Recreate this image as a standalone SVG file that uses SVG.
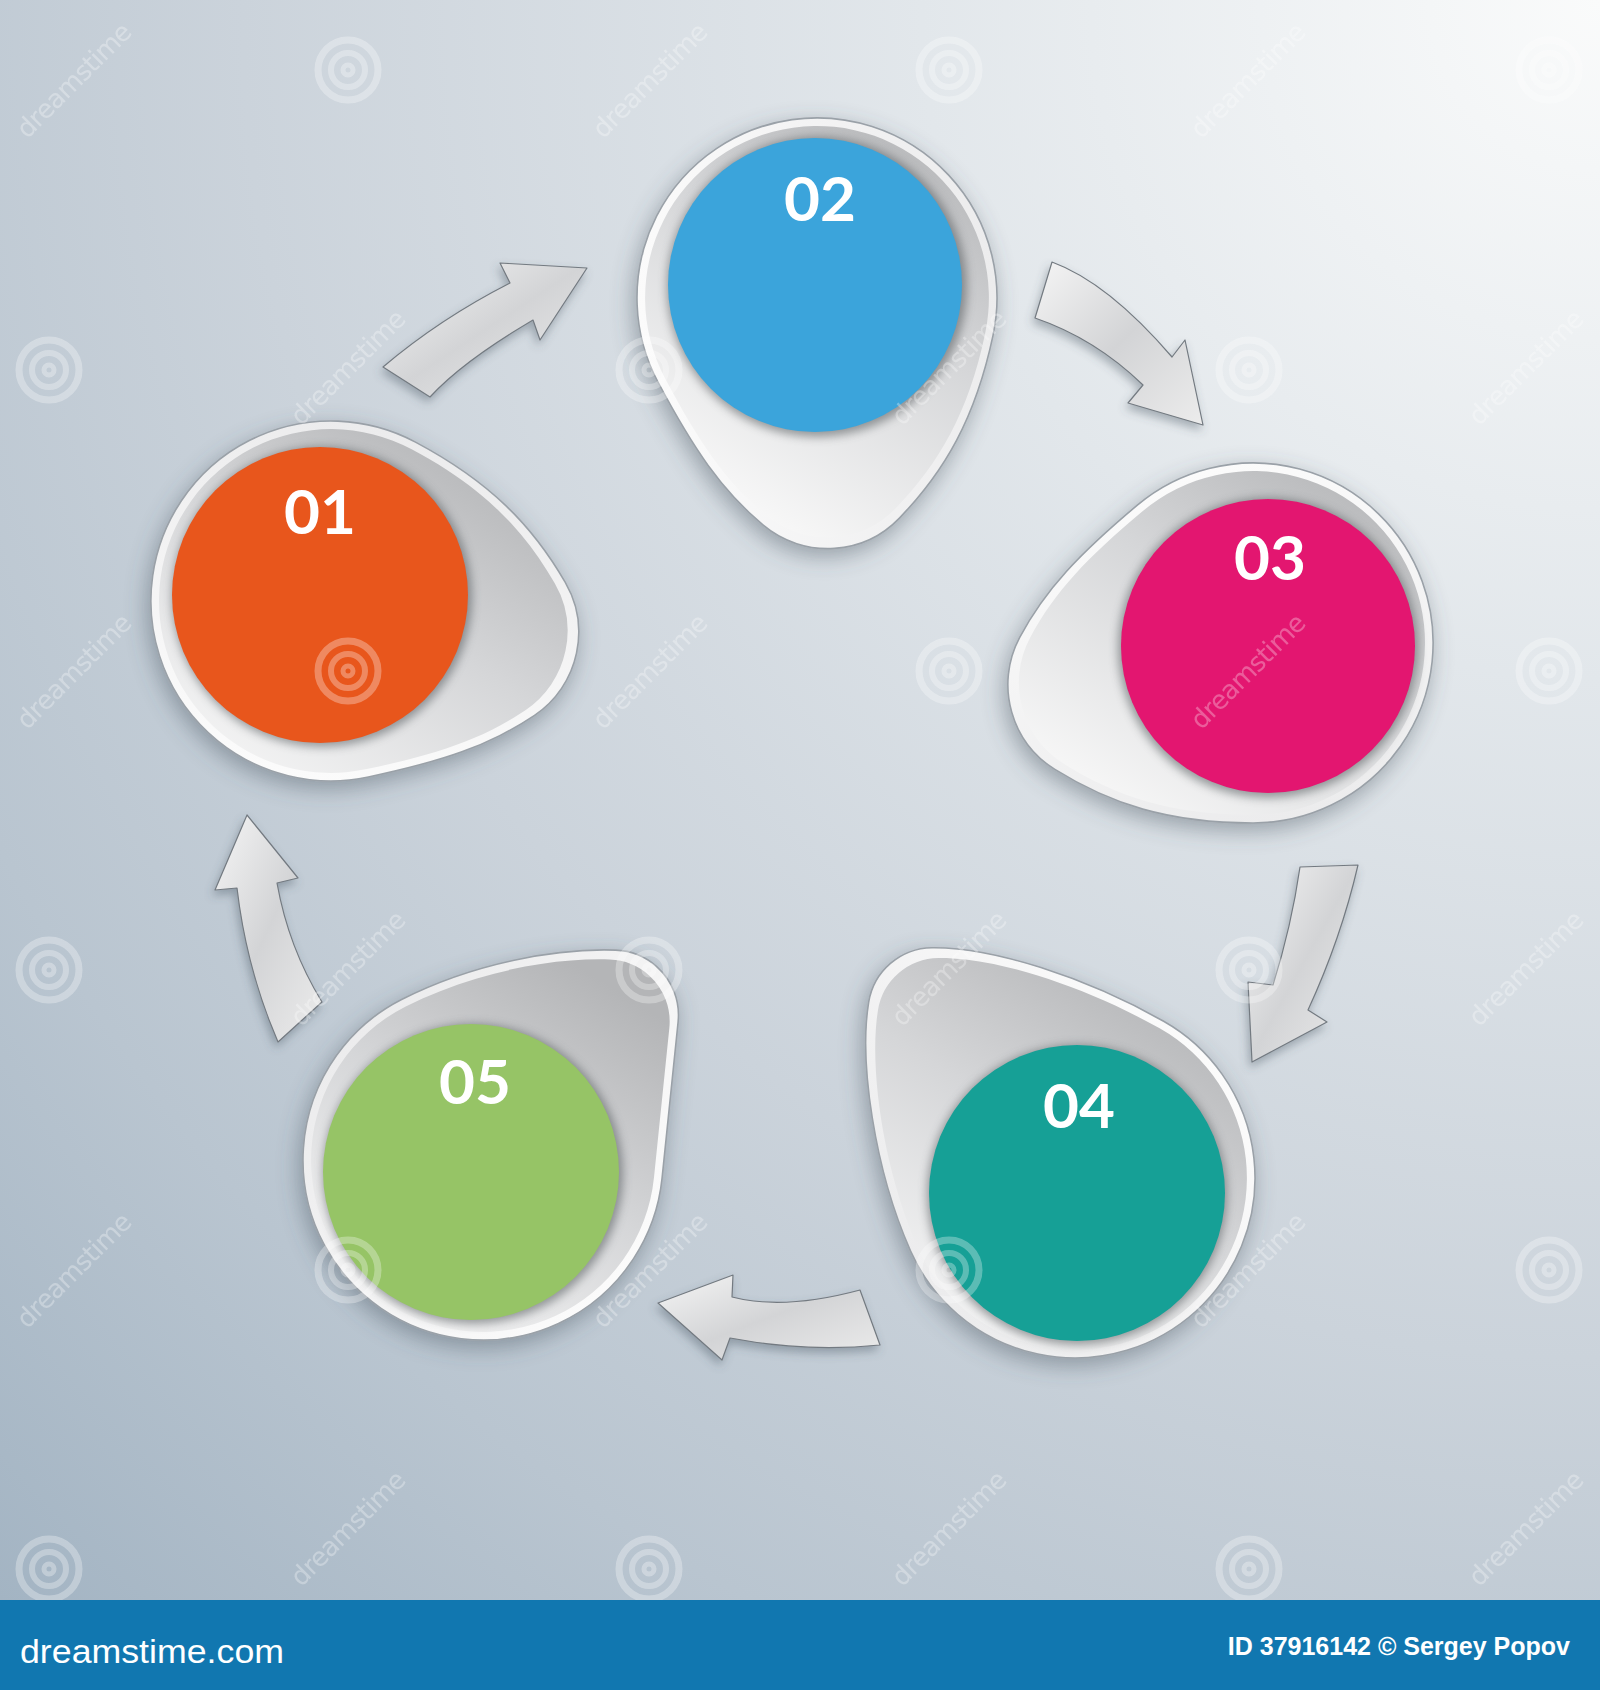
<svg xmlns="http://www.w3.org/2000/svg" width="1600" height="1690" viewBox="0 0 1600 1690">
<defs>
<style>
.rim{fill:url(#rimGrad);stroke:#9aa1a8;stroke-width:1.6}
.num{font-family:Lato,"Open Sans","Liberation Sans",sans-serif;font-weight:700;font-size:62px;fill:#ffffff;text-anchor:middle}
.arrow{fill:url(#arrowGrad);stroke:#737a81;stroke-width:1.2;stroke-linejoin:round;filter:url(#ashadow)}
.cshadow{fill:#4d5257;opacity:.55;filter:url(#blur)}
.wm{font-family:"DejaVu Sans",sans-serif;font-size:26px;fill:#ffffff;opacity:.3;text-anchor:middle}
.spiral circle{fill:none;stroke:#ffffff}
.spiral{opacity:.3}
.bar{font-family:"Liberation Sans",Arial,sans-serif;fill:#ffffff}
</style>
<radialGradient id="bg" gradientUnits="userSpaceOnUse" cx="1600" cy="0" r="2263">
<stop offset="0" stop-color="#fafbfb"/>
<stop offset="0.3" stop-color="#e2e7eb"/>
<stop offset="0.6" stop-color="#cbd3db"/>
<stop offset="0.8" stop-color="#b9c5d0"/>
<stop offset="1" stop-color="#a3b4c3"/>
</radialGradient>
<linearGradient id="rimGrad" x1="0" y1="0" x2="0" y2="1">
<stop offset="0" stop-color="#ececed"/>
<stop offset="1" stop-color="#fbfbfb"/>
</linearGradient>
<linearGradient id="arrowGrad" x1="0" y1="0" x2="1" y2="1">
<stop offset="0" stop-color="#f5f5f5"/>
<stop offset="0.5" stop-color="#d3d4d6"/>
<stop offset="1" stop-color="#ececec"/>
</linearGradient>
<linearGradient id="face01" gradientUnits="userSpaceOnUse" x1="120" y1="-190" x2="-120" y2="190" gradientTransform="rotate(-12)">
<stop offset="0" stop-color="#b4b5b7"/><stop offset="0.45" stop-color="#d5d6d8"/><stop offset="1" stop-color="#f7f7f7"/>
</linearGradient>
<linearGradient id="face02" gradientUnits="userSpaceOnUse" x1="120" y1="-190" x2="-120" y2="190" gradientTransform="rotate(-86)">
<stop offset="0" stop-color="#b4b5b7"/><stop offset="0.45" stop-color="#d5d6d8"/><stop offset="1" stop-color="#f7f7f7"/>
</linearGradient>
<linearGradient id="face03" gradientUnits="userSpaceOnUse" x1="120" y1="-190" x2="-120" y2="190" gradientTransform="rotate(-164)">
<stop offset="0" stop-color="#b4b5b7"/><stop offset="0.45" stop-color="#d5d6d8"/><stop offset="1" stop-color="#f7f7f7"/>
</linearGradient>
<linearGradient id="face04" gradientUnits="userSpaceOnUse" x1="120" y1="-190" x2="-120" y2="190" gradientTransform="rotate(-229.3)">
<stop offset="0" stop-color="#b4b5b7"/><stop offset="0.45" stop-color="#d5d6d8"/><stop offset="1" stop-color="#f7f7f7"/>
</linearGradient>
<linearGradient id="face05" gradientUnits="userSpaceOnUse" x1="120" y1="-190" x2="-120" y2="190" gradientTransform="rotate(48)">
<stop offset="0" stop-color="#b4b5b7"/><stop offset="0.45" stop-color="#d5d6d8"/><stop offset="1" stop-color="#f7f7f7"/>
</linearGradient>
<filter id="shadow" x="-25%" y="-25%" width="150%" height="150%">
<feDropShadow dx="-3" dy="7" stdDeviation="11" flood-color="#44525f" flood-opacity="0.45"/>
</filter>
<filter id="ashadow" x="-25%" y="-25%" width="150%" height="150%">
<feDropShadow dx="-2" dy="5" stdDeviation="5" flood-color="#44525f" flood-opacity="0.4"/>
</filter>
<filter id="blur" x="-20%" y="-20%" width="140%" height="140%">
<feGaussianBlur stdDeviation="5"/>
</filter>
<path id="dropA" d="M 251,0 A 100 100 0 0 1 222.9,69.5 C 184.7,109 141.7,133.9 73.2,164.4 A 180 180 0 1 1 49.6,-173 C 131.3,-149.6 181.8,-115.2 225.3,-66.9 A 100 100 0 0 1 251,0 Z"/>
<path id="dropB4" d="M 283,0 A 65 65 0 0 1 267.8,41.8 C 229.2,87.8 145.7,138.9 61,169.4 A 180 180 0 1 1 52,-172.3 C 138.1,-146.3 229.2,-87.8 267.8,-41.8 A 65 65 0 0 1 283,0 Z"/>
<path id="dropB5" d="M 260,0 A 65 65 0 0 1 233.3,52.5 L 106.1,145.4 A 180 180 0 1 1 64.8,-167.9 C 139.4,-139.1 206.2,-87.8 244.8,-41.8 A 65 65 0 0 1 260,0 Z"/>
<g id="spiral" class="spiral">
<circle r="30" stroke-width="7"/>
<circle r="17" stroke-width="6"/>
<circle r="5" stroke-width="5"/>
</g>
</defs>

<rect x="0" y="0" width="1600" height="1600" fill="url(#bg)"/>

<g id="connectors">
<path class="arrow" d="M 383,367 Q 439.5,319 510,283 L 500,263 L 587,268 L 540,340 L 533,320 Q 462.5,361.5 430,397 Z"/>
<path class="arrow" d="M 1052,262 Q 1108,282.5 1172,357 L 1185,340 L 1203,425 L 1128,403 L 1143,385 Q 1095,338.5 1035,318 Z"/>
<path class="arrow" d="M 1358,865 Q 1341,938.5 1308,1010 L 1327,1022 L 1252,1062 L 1248,982 L 1273,985 Q 1291.5,926 1300,867 Z"/>
<path class="arrow" d="M 860,1290 Q 784,1310.5 732,1297 L 733,1275 L 658,1303 L 722,1360 L 730,1338 Q 805,1352.5 880,1345 Z"/>
<path class="arrow" d="M 322,1002 Q 288.5,947.5 277,883 L 298,878 L 247,815 L 215,890 L 237,888 Q 246.5,969 278,1042 Z"/>
</g>

<g id="node-01" filter="url(#shadow)">
<g transform="translate(331,601) rotate(12)">
<use href="#dropA" class="rim"/>
<use href="#dropA" transform="scale(0.955)" fill="url(#face01)"/>
</g>
<circle class="cshadow" cx="322" cy="597" r="150"/>
<circle cx="320" cy="595" r="148" fill="#e8561e"/>
<text class="num" x="320" y="534">01</text>
</g>

<g id="node-02" filter="url(#shadow)">
<g transform="translate(817,298) rotate(86)">
<use href="#dropA" class="rim"/>
<use href="#dropA" transform="scale(0.955)" fill="url(#face02)"/>
</g>
<circle class="cshadow" cx="817" cy="287" r="150"/>
<circle cx="815" cy="285" r="147" fill="#3aa4db"/>
<text class="num" x="820" y="221">02</text>
</g>

<g id="node-03" filter="url(#shadow)">
<g transform="translate(1253,643) rotate(164)">
<use href="#dropA" class="rim"/>
<use href="#dropA" transform="scale(0.955)" fill="url(#face03)"/>
</g>
<circle class="cshadow" cx="1268" cy="648" r="150"/>
<circle cx="1268" cy="646" r="147" fill="#e3166f"/>
<text class="num" x="1270" y="580">03</text>
</g>

<g id="node-04" filter="url(#shadow)">
<g transform="translate(1075,1178) rotate(229.3)">
<use href="#dropB4" class="rim"/>
<use href="#dropB4" transform="scale(0.955)" fill="url(#face04)"/>
</g>
<circle class="cshadow" cx="1077" cy="1195" r="150"/>
<circle cx="1077" cy="1193" r="148" fill="#16a096"/>
<text class="num" x="1079" y="1128">04</text>
</g>

<g id="node-05" filter="url(#shadow)">
<g transform="translate(483,1160) rotate(-48)">
<use href="#dropB5" class="rim"/>
<use href="#dropB5" transform="scale(0.955)" fill="url(#face05)"/>
</g>
<circle class="cshadow" cx="473" cy="1174" r="150"/>
<circle cx="471" cy="1172" r="148" fill="#96c466"/>
<text class="num" x="475" y="1104">05</text>
</g>

<g id="watermark">
<use href="#spiral" x="348" y="70"/>
<use href="#spiral" x="949" y="70"/>
<use href="#spiral" x="1549" y="70"/>
<use href="#spiral" x="49" y="370"/>
<use href="#spiral" x="649" y="370"/>
<use href="#spiral" x="1249" y="370"/>
<use href="#spiral" x="348" y="671"/>
<use href="#spiral" x="949" y="671"/>
<use href="#spiral" x="1549" y="671"/>
<use href="#spiral" x="49" y="970"/>
<use href="#spiral" x="649" y="970"/>
<use href="#spiral" x="1249" y="970"/>
<use href="#spiral" x="348" y="1270"/>
<use href="#spiral" x="949" y="1270"/>
<use href="#spiral" x="1549" y="1270"/>
<use href="#spiral" x="49" y="1569"/>
<use href="#spiral" x="649" y="1569"/>
<use href="#spiral" x="1249" y="1569"/>
<text class="wm" transform="translate(74,80) rotate(-45)" y="9" textLength="150">dreamstime</text>
<text class="wm" transform="translate(650,80) rotate(-45)" y="9" textLength="150">dreamstime</text>
<text class="wm" transform="translate(1248,80) rotate(-45)" y="9" textLength="150">dreamstime</text>
<text class="wm" transform="translate(348,367) rotate(-45)" y="9" textLength="150">dreamstime</text>
<text class="wm" transform="translate(949,367) rotate(-45)" y="9" textLength="150">dreamstime</text>
<text class="wm" transform="translate(1526,367) rotate(-45)" y="9" textLength="150">dreamstime</text>
<text class="wm" transform="translate(74,671) rotate(-45)" y="9" textLength="150">dreamstime</text>
<text class="wm" transform="translate(650,671) rotate(-45)" y="9" textLength="150">dreamstime</text>
<text class="wm" transform="translate(1248,671) rotate(-45)" y="9" textLength="150">dreamstime</text>
<text class="wm" transform="translate(348,968) rotate(-45)" y="9" textLength="150">dreamstime</text>
<text class="wm" transform="translate(949,968) rotate(-45)" y="9" textLength="150">dreamstime</text>
<text class="wm" transform="translate(1526,968) rotate(-45)" y="9" textLength="150">dreamstime</text>
<text class="wm" transform="translate(74,1270) rotate(-45)" y="9" textLength="150">dreamstime</text>
<text class="wm" transform="translate(650,1270) rotate(-45)" y="9" textLength="150">dreamstime</text>
<text class="wm" transform="translate(1248,1270) rotate(-45)" y="9" textLength="150">dreamstime</text>
<text class="wm" transform="translate(348,1528) rotate(-45)" y="9" textLength="150">dreamstime</text>
<text class="wm" transform="translate(949,1528) rotate(-45)" y="9" textLength="150">dreamstime</text>
<text class="wm" transform="translate(1526,1528) rotate(-45)" y="9" textLength="150">dreamstime</text>
</g>

<g id="footer">
<rect x="0" y="1600" width="1600" height="90" fill="#1177b0"/>
<text class="bar" x="20" y="1663" font-size="33" textLength="264" lengthAdjust="spacingAndGlyphs">dreamstime.com</text>
<text class="bar" x="1570" y="1655" font-size="25" font-weight="700" text-anchor="end">ID 37916142 © Sergey Popov</text>
</g>
</svg>
